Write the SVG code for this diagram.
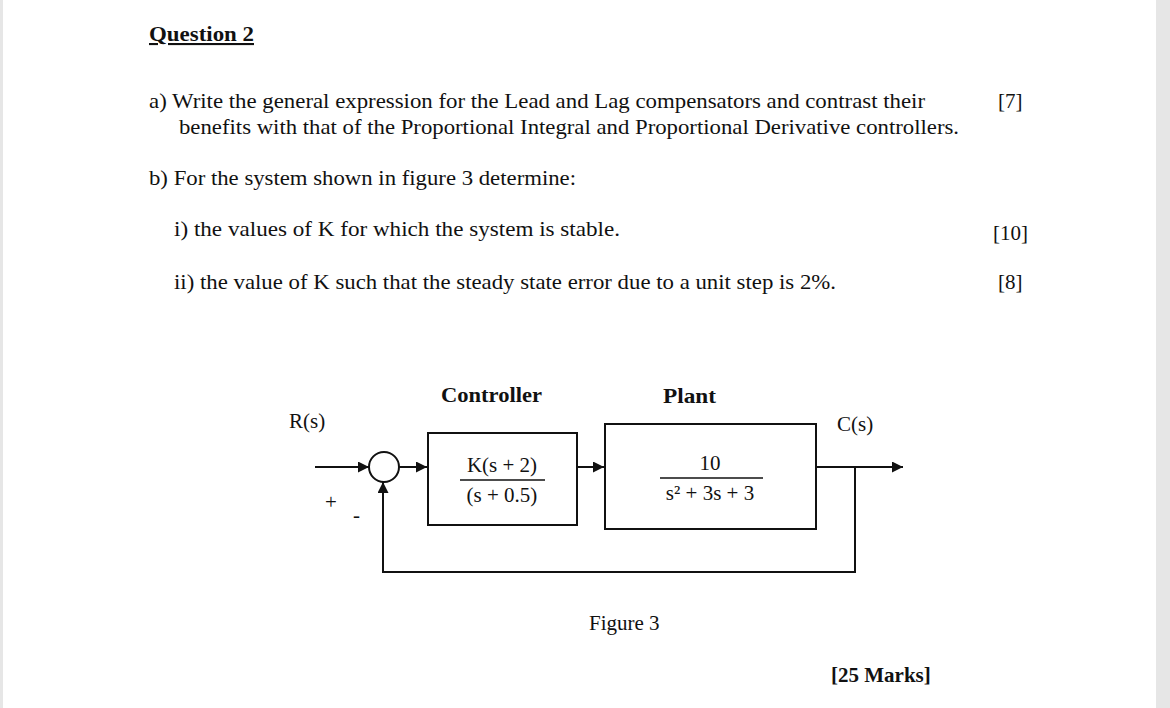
<svg xmlns="http://www.w3.org/2000/svg" width="1170" height="708" viewBox="0 0 1170 708">
<style>
text{font-family:"Liberation Serif",serif;font-size:21px;fill:#111}
.b{font-weight:bold}
.box{fill:none;stroke:#111;stroke-width:2}
.ln{fill:none;stroke:#111;stroke-width:2}
</style>
<defs><marker id="a" viewBox="0 0 10 10" refX="10" refY="5" markerWidth="13" markerHeight="11" markerUnits="userSpaceOnUse" orient="auto"><path d="M0,0L10,5L0,10z" fill="#111"/></marker></defs>
<rect width="1170" height="708" fill="#fff"/>
<rect x="1156" y="0" width="14" height="708" fill="#e6e6e6"/>
<rect x="0" y="0" width="3" height="708" fill="#e6e6e6"/>
<text x="149" y="41" class="b" text-decoration="underline" textLength="105" lengthAdjust="spacingAndGlyphs">Question 2</text>
<text x="149" y="108" textLength="776" lengthAdjust="spacingAndGlyphs">a) Write the general expression for the Lead and Lag compensators and contrast their</text>
<text x="179" y="134" textLength="780" lengthAdjust="spacingAndGlyphs">benefits with that of the Proportional Integral and Proportional Derivative controllers.</text>
<text x="998" y="108">[7]</text>
<text x="149" y="185" textLength="427" lengthAdjust="spacingAndGlyphs">b) For the system shown in figure 3 determine:</text>
<text x="174" y="236" textLength="446" lengthAdjust="spacingAndGlyphs">i) the values of  K for which the system is stable.</text>
<text x="993" y="240">[10]</text>
<text x="174" y="289" textLength="662" lengthAdjust="spacingAndGlyphs">ii) the value of K such that the steady state error due to a unit step is 2%.</text>
<text x="998" y="289">[8]</text>
<g id="labels">
<text x="441" y="402" class="b" textLength="101" lengthAdjust="spacingAndGlyphs">Controller</text>
<text x="663" y="403" class="b" textLength="53" lengthAdjust="spacingAndGlyphs">Plant</text>
<text x="289" y="428">R(s)</text>
<text x="837" y="431">C(s)</text>
<text x="325" y="509" font-size="18">+</text>
<text x="353" y="522" font-size="18">-</text>
</g>
<g id="sum"><circle cx="384" cy="467" r="15" class="box"/></g>
<g id="controller"><rect x="428" y="433" width="149" height="92" class="box"/>
<text x="502" y="472" text-anchor="middle">K(s + 2)</text>
<line x1="460" y1="480" x2="545" y2="480" stroke="#111" stroke-width="1.5"/>
<text x="502" y="502" text-anchor="middle">(s + 0.5)</text></g>
<g id="plant"><rect x="605" y="424" width="211" height="105" class="box"/>
<text x="710" y="470" text-anchor="middle" font-size="18">10</text>
<line x1="660" y1="478" x2="763" y2="478" stroke="#111" stroke-width="1.5"/>
<text x="710" y="500" text-anchor="middle" font-size="18">s² + 3s + 3</text></g>
<g id="connectors">
<line x1="315" y1="467" x2="369" y2="467" class="ln" marker-end="url(#a)"/>
<line x1="399" y1="467" x2="427" y2="467" class="ln" marker-end="url(#a)"/>
<line x1="577" y1="467" x2="604" y2="467" class="ln" marker-end="url(#a)"/>
<line x1="816" y1="467" x2="903" y2="467" class="ln" marker-end="url(#a)"/>
<polyline points="855,467 855,572 383,572 383,482" class="ln" marker-end="url(#a)"/>
</g>
<text x="589" y="630">Figure 3</text>
<text x="831" y="682" class="b">[25 Marks]</text>
</svg>
